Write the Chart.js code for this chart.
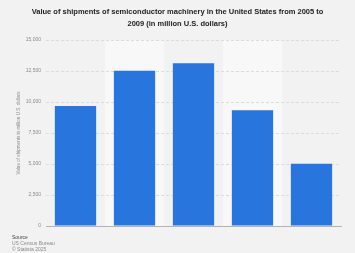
<!DOCTYPE html>
<html>
<head>
<meta charset="utf-8">
<script src="https://cdn.jsdelivr.net/npm/chart.js@4/dist/chart.umd.min.js"></script>
<style>
html,body{margin:0;padding:0;background:#f2f2f2;}
#wrap{position:relative;width:355px;height:253px;}
canvas{position:absolute;left:0;top:0;}
#src{position:absolute;left:12px;top:234px;font-family:"Liberation Sans",Arial,sans-serif;font-size:5px;line-height:6.2px;color:#8a8a8a;}
#src b{font-weight:normal;color:#444;}
</style>
</head>
<body>
<div id="wrap">
<canvas id="c" width="355" height="253"></canvas>
<div id="src"><b>Source</b><br>US Census Bureau<br>© Statista 2025</div>
</div>
<script>
const categories = ["2005", "2006", "2007", "2008", "2009"];
const shipmentValues = [9680, 12530, 13120, 9330, 5020];
const yTickValues = [0, 2500, 5000, 7500, 10000, 12500, 15000];
const titleLines = ["Value of shipments of semiconductor machinery in the United States from 2005 to", "2009 (in million U.S. dollars)"];
const yAxisTitle = "Value of shipments in million U.S. dollars";

const bandPlugin = {
  id: 'bands',
  beforeDraw(chart) {
    const {ctx, chartArea, scales} = chart;
    const x = scales.x;
    const n = categories.length;
    const w = (chartArea.right - chartArea.left) / n;
    ctx.save();
    ctx.fillStyle = '#f8f8f8';
    categories.forEach((c, i) => {
      if (i % 2 === 1) {
        const cx = x.getPixelForValue(i);
        ctx.fillRect(cx - w / 2, chartArea.top, w, chartArea.bottom - chartArea.top);
      }
    });
    ctx.restore();
  }
};

new Chart(document.getElementById('c'), {
  type: 'bar',
  data: {
    labels: categories,
    datasets: [{
      data: shipmentValues,
      backgroundColor: '#2876dd',
      borderWidth: 0,
      barPercentage: 0.7,
      categoryPercentage: 1.0
    }]
  },
  options: {
    responsive: false,
    animation: false,
    events: [],
    layout: { padding: { left: 14, right: 14, top: 0, bottom: 27 } },
    plugins: {
      legend: { display: false },
      tooltip: { enabled: false },
      title: {
        display: true,
        text: titleLines,
        color: '#222',
        font: { family: 'Liberation Sans', size: 7.5, weight: 'bold', lineHeight: 1.6 },
        padding: { top: 6, bottom: 10 }
      }
    },
    scales: {
      x: {
        offset: true,
        grid: { display: false, drawTicks: false },
        border: { display: true, color: '#b3b3b3', width: 1 },
        ticks: { display: false }
      },
      y: {
        min: 0,
        max: 15000,
        afterFit(s) { s.width = 32; },
        afterBuildTicks(s) { s.ticks = yTickValues.map(v => ({ value: v })); },
        grid: { color: '#dcdcdc', lineWidth: 1, drawTicks: false },
        border: { display: false, dash: [3, 2] },
        ticks: {
          padding: 5,
          color: '#8a8a8a',
          font: { family: 'Liberation Sans', size: 5 },
          callback: v => v.toLocaleString('en-US')
        },
        title: {
          display: true,
          text: yAxisTitle,
          color: '#8a8a8a',
          font: { family: 'Liberation Sans', size: 4.6 },
          padding: { top: 1.5, bottom: 0 }
        }
      }
    }
  },
  plugins: [bandPlugin]
});
</script>
</body>
</html>
